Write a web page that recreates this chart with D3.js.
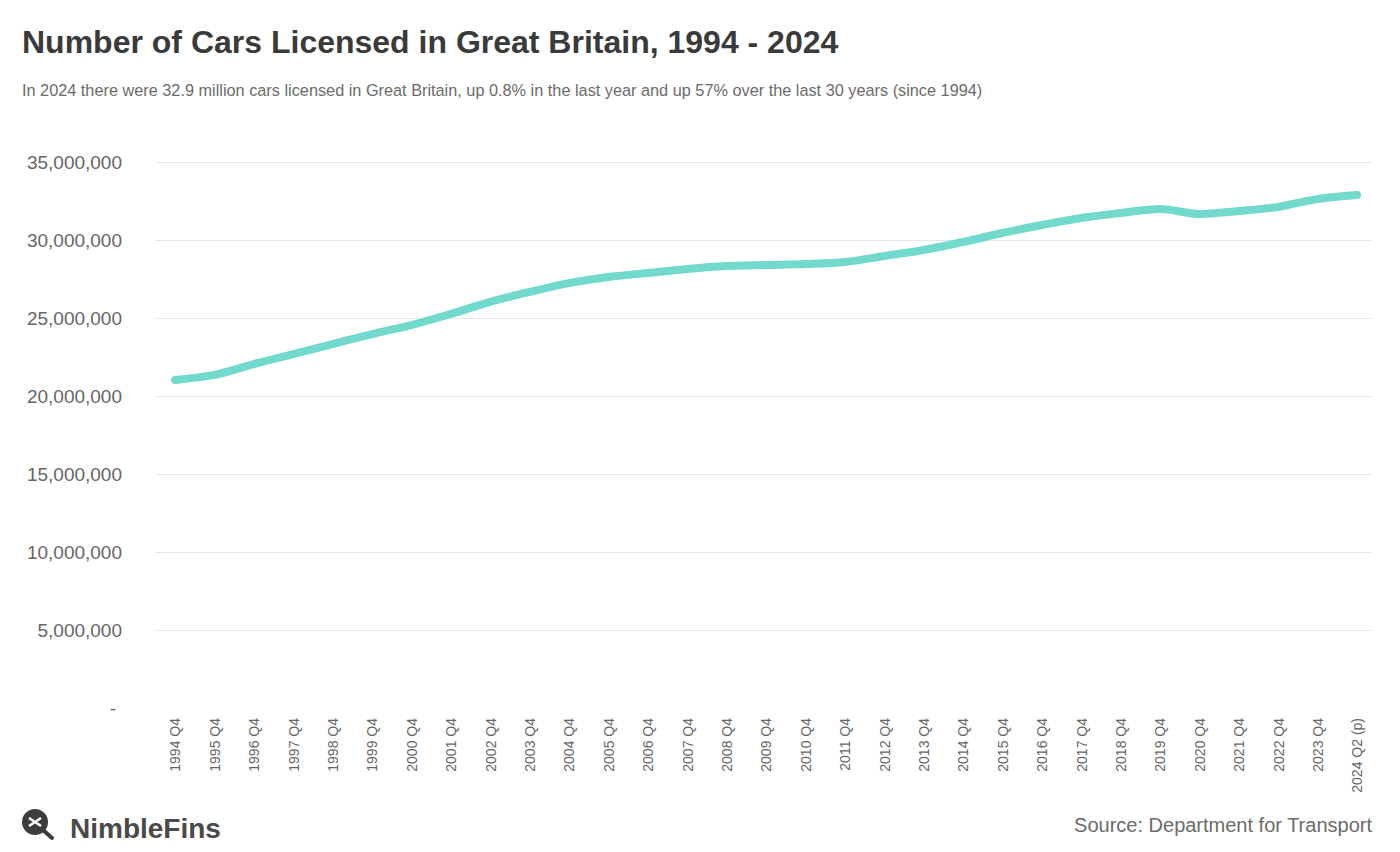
<!DOCTYPE html>
<html>
<head>
<meta charset="utf-8">
<script src="https://cdn.jsdelivr.net/npm/d3@7"></script>
<style>
  html, body { margin: 0; padding: 0; background: #ffffff; }
  svg { display: block; font-family: "Liberation Sans", Arial, sans-serif; }
</style>
</head>
<body>
<svg id="chart" width="1400" height="852"></svg>
<script>
// ---- data ----
const years = ["1994","1995","1996","1997","1998","1999","2000","2001","2002","2003",
  "2004","2005","2006","2007","2008","2009","2010","2011","2012","2013",
  "2014","2015","2016","2017","2018","2019","2020","2021","2022","2023","2024"];
const xLabels = ["1994 Q4","1995 Q4","1996 Q4","1997 Q4","1998 Q4","1999 Q4","2000 Q4","2001 Q4","2002 Q4","2003 Q4",
  "2004 Q4","2005 Q4","2006 Q4","2007 Q4","2008 Q4","2009 Q4","2010 Q4","2011 Q4","2012 Q4","2013 Q4",
  "2014 Q4","2015 Q4","2016 Q4","2017 Q4","2018 Q4","2019 Q4","2020 Q4","2021 Q4","2022 Q4","2023 Q4","2024 Q2 (p)"];
const carsLicensed = [21030000,21350000,22050000,22690000,23330000,23970000,24550000,25260000,26030000,26670000,
  27240000,27630000,27880000,28140000,28330000,28400000,28460000,28590000,28970000,29360000,
  29870000,30450000,30960000,31410000,31730000,31990000,31670000,31860000,32120000,32630000,32880000];
const yTicks = [0,5000000,10000000,15000000,20000000,25000000,30000000,35000000];
const titleText = "Number of Cars Licensed in Great Britain, 1994 - 2024";
const subtitleText = "In 2024 there were 32.9 million cars licensed in Great Britain, up 0.8% in the last year and up 57% over the last 30 years (since 1994)";
const sourceText = "Source: Department for Transport";
const brandText = "NimbleFins";

// ---- layout ----
const svg = d3.select("#chart");
const plotLeft = 155, plotRight = 1372, plotTop = 162, plotBottom = 708;

const x = d3.scalePoint().domain(years).range([175, 1357]);
const y = d3.scaleLinear().domain([0, 35000000]).range([plotBottom, plotTop]);

// title & subtitle
svg.append("text").attr("x", 22).attr("y", 53)
  .attr("font-size", 32).attr("font-weight", "bold").attr("fill", "#3a3a3a")
  .text(titleText);
svg.append("text").attr("x", 22).attr("y", 96)
  .attr("font-size", 16.3).attr("fill", "#6b6b6b")
  .text(subtitleText);

// gridlines
const grid = svg.append("g").attr("transform", `translate(${plotLeft},0)`)
  .call(d3.axisLeft(y).tickValues(yTicks.filter(d => d > 0)).tickSize(-(plotRight - plotLeft)).tickFormat(""));
grid.select(".domain").remove();
grid.selectAll(".tick line").attr("stroke", "#e6e6e6").attr("stroke-width", 1);

// y axis labels
const yAxis = svg.append("g").attr("transform", `translate(122,0)`)
  .call(d3.axisLeft(y).tickValues(yTicks).tickSize(0).tickPadding(0)
    .tickFormat(d => d === 0 ? "-" : d3.format(",")(d)));
yAxis.select(".domain").remove();
yAxis.selectAll(".tick text").attr("font-size", 19).attr("fill", "#666666")
  .attr("font-family", "'Liberation Sans', Arial, sans-serif")
  .attr("dx", d => d === 0 ? -6 : 0);

// x axis labels
const xAxis = svg.append("g").attr("transform", `translate(0,${plotBottom})`)
  .call(d3.axisBottom(x).tickSize(0).tickFormat((d, i) => xLabels[i]));
xAxis.select(".domain").remove();
xAxis.selectAll(".tick text")
  .attr("font-size", 14).attr("fill", "#666666")
  .attr("font-family", "'Liberation Sans', Arial, sans-serif")
  .attr("text-anchor", "end")
  .attr("transform", "rotate(-90)")
  .attr("x", -10).attr("y", 0).attr("dy", "0.35em");

// line
const line = d3.line().x((d, i) => x(years[i])).y(d => y(d)).curve(d3.curveMonotoneX);
svg.append("path").datum(carsLicensed)
  .attr("d", line).attr("fill", "none")
  .attr("stroke", "#72d9cd").attr("stroke-width", 8)
  .attr("stroke-linecap", "round").attr("stroke-linejoin", "round");

// footer: logo + brand
const logo = svg.append("g").attr("transform", "translate(35,822)");
logo.append("circle").attr("r", 13).attr("fill", "#3d3d3d");
logo.append("path").attr("d", "M-6,-4 L6,4 M-6,4 L6,-4").attr("stroke", "#ffffff").attr("stroke-width", 2.5);
logo.append("path").attr("d", "M8,8 L17,16").attr("stroke", "#3d3d3d").attr("stroke-width", 4).attr("stroke-linecap", "round");
svg.append("text").attr("x", 70).attr("y", 838)
  .attr("font-size", 28).attr("font-weight", "bold").attr("fill", "#4a4a4a")
  .text(brandText);

// source
svg.append("text").attr("x", 1372).attr("y", 832).attr("text-anchor", "end")
  .attr("font-size", 20).attr("fill", "#6b6b6b")
  .text(sourceText);
</script>
</body>
</html>
